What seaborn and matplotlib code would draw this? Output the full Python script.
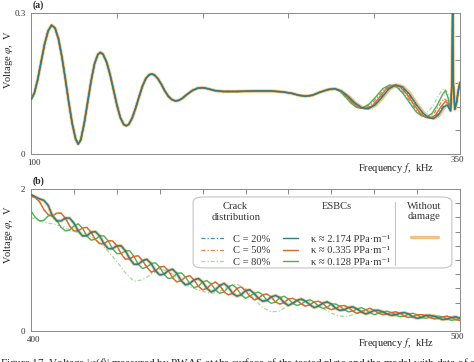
import matplotlib
matplotlib.use("Agg")
import matplotlib.pyplot as plt
import matplotlib.transforms as mtransforms
from matplotlib.patches import FancyBboxPatch
from matplotlib.lines import Line2D
import seaborn as sns

sns.set_theme(style="white")
plt.rcParams["font.family"] = ["Liberation Serif", "DejaVu Serif"]
plt.rcParams["mathtext.fontset"] = "stix"

# ---------------- panel (a): 100-350 kHz ----------------
fa_common = [100, 102, 104, 106, 108, 110, 112, 114, 116, 118, 120, 122, 124, 126, 127.5, 129, 131, 133, 135,
             137, 139, 140.5, 142, 144, 146, 148, 150, 152, 154, 155.5, 157, 159, 161, 163, 165, 167, 169, 170.5,
             172, 174, 176, 178, 180, 182, 184, 186, 188, 191, 194, 197, 200, 203, 207, 212, 220, 230, 240, 247,
             252, 256, 260, 264, 268, 273]
va_common = [.116, .130, .160, .198, .235, .262, .274, .268, .245, .207, .160, .110, .065, .032, .021, .030, .065,
             .110, .155, .192, .212, .216, .212, .196, .170, .138, .105, .078, .063, .060, .063, .077, .098, .122,
             .145, .161, .169, .170, .168, .160, .148, .134, .123, .116, .113, .114, .118, .127, .135, .140, .141,
             .139, .135, .133, .133, .134, .134, .132, .129, .125, .123, .125, .131, .137]

fa_spike = [344.5, 345.3, 345.7, 346.1, 347, 348, 349, 350]
va_spike = [.092, .150, .310, .150, .095, .110, .135, .152]

fa_none = [277, 281, 285, 289, 293, 297, 301, 305, 309, 313, 317, 321, 325, 329, 332, 335, 338, 341, 343]
va_none = [.139, .134, .123, .109, .099, .097, .104, .120, .138, .147, .143, .128, .106, .087, .078, .076, .083, .100, .106]

fa_k1 = [277, 280.8, 284.7, 288.6, 292.5, 296.4, 300.4, 304.4, 308.4, 312.4, 316.4, 320.4, 324.4, 328.4, 331.4,
         334.4, 337.4, 340.4, 342.6]
va_k1 = [.139, .134, .123, .109, .099, .096, .104, .120, .138, .147, .143, .128, .106, .087, .078, .075, .083, .100, .104]

fa_c20 = [277, 280.7, 284.5, 288.3, 292.2, 296.1, 300.1, 304.1, 308.1, 312.1, 316.1, 320.1, 324.1, 328.1, 331.1,
          334.1, 337.1, 340.1, 342.5]
va_c20 = [.139, .134, .124, .110, .100, .098, .105, .121, .138, .146, .142, .127, .106, .088, .079, .077, .085, .101, .104]

fa_k2 = [277, 280.6, 284.2, 287.8, 291.4, 295.0, 299.0, 303.0, 307.0, 311.0, 315.0, 319.0, 323.0, 326.8, 329.8,
         332.8, 335.8, 338.8, 341.5, 343]
va_k2 = [.139, .134, .122, .108, .098, .096, .103, .120, .138, .147, .143, .128, .106, .087, .078, .076, .083, .100,
         .112, .108]

fa_c50 = [277, 280.4, 283.8, 287.2, 290.6, 294, 298, 302, 306, 310, 314, 318, 322, 325.6, 328.6, 331.6, 334.6,
          337.6, 340.6, 343]
va_c50 = [.139, .133, .122, .108, .099, .098, .105, .121, .139, .146, .142, .127, .106, .088, .080, .078, .085, .102,
          .118, .112]

fa_k3 = [277, 280.2, 283.4, 286.6, 289.8, 293, 297, 301, 305, 309, 313, 317, 321, 324.6, 327.6, 330.6, 333.6,
         336.6, 339.6, 341.5, 343]
va_k3 = [.139, .133, .121, .108, .099, .098, .106, .122, .139, .147, .143, .128, .107, .089, .081, .079, .086, .103,
         .125, .135, .120]

fa_c80 = [277, 280, 283, 286, 289, 292, 295, 299, 303, 307, 311, 315, 319, 322.5, 325.5, 328.5, 331.5, 334.5,
          337.5, 340.5, 343]
va_c80 = [.139, .132, .121, .109, .101, .100, .102, .110, .126, .140, .145, .140, .125, .108, .094, .088, .090, .104,
          .125, .140, .130]

# ---------------- panel (b): 400-500 kHz ----------------
fb = list(range(400, 501))
vb_k1 = [1.92, 1.89, 1.86, 1.84, 1.77, 1.62, 1.55, 1.55, 1.59, 1.59, 1.52, 1.41, 1.34, 1.34, 1.39, 1.40, 1.34,
         1.23, 1.16, 1.16, 1.20, 1.20, 1.13, 1.02, .94, .94, .99, 1.01, .95, .85, .79, .80, .85, .87, .81, .71, .65,
         .67, .72, .74, .69, .60, .55, .58, .64, .67, .62, .53, .49, .51, .57, .58, .53, .46, .42, .43, .48, .50,
         .47, .40, .36, .39, .43, .45, .42, .37, .33, .35, .39, .41, .38, .32, .29, .30, .33, .34, .31, .27, .24,
         .26, .29, .29, .27, .24, .22, .23, .25, .26, .24, .20, .18, .19, .22, .22, .21, .18, .16, .17, .19, .20, .18]
vb_k2 = [1.90, 1.88, 1.82, 1.71, 1.64, 1.62, 1.66, 1.66, 1.59, 1.48, 1.41, 1.41, 1.45, 1.46, 1.39, 1.29, 1.23,
         1.23, 1.27, 1.27, 1.20, 1.09, 1.01, 1.02, 1.05, 1.06, .99, .90, .83, .85, .90, .91, .85, .75, .69, .71,
         .76, .78, .72, .63, .58, .60, .66, .69, .64, .55, .51, .53, .60, .62, .57, .49, .44, .46, .51, .52, .48,
         .41, .38, .40, .45, .46, .43, .38, .35, .37, .41, .42, .39, .33, .30, .32, .35, .36, .33, .28, .25, .27,
         .30, .32, .29, .25, .23, .24, .26, .27, .25, .21, .19, .20, .23, .23, .22, .19, .17, .18, .20, .21, .19,
         .16, .15]
vb_k3 = [1.69, 1.60, 1.55, 1.56, 1.62, 1.63, 1.56, 1.46, 1.41, 1.42, 1.48, 1.51, 1.45, 1.34, 1.28, 1.29, 1.34,
         1.34, 1.27, 1.16, 1.09, 1.09, 1.13, 1.13, 1.05, .94, .88, .90, .95, .96, .90, .80, .74, .75, .81, .82, .76,
         .67, .61, .63, .69, .71, .66, .58, .53, .55, .62, .65, .60, .51, .46, .49, .53, .55, .51, .43, .39, .41,
         .47, .49, .45, .39, .36, .38, .42, .44, .41, .35, .32, .33, .38, .38, .35, .30, .27, .28, .31, .33, .30,
         .26, .23, .25, .27, .28, .26, .23, .20, .21, .24, .25, .23, .19, .18, .19, .21, .21, .20, .17, .15, .16, .18]
vb_none = vb_k1
vb_c20 = vb_k1
vb_c50 = vb_k2
fb_c80 = list(range(400, 501, 2))
vb_c80 = [1.60, 1.55, 1.52, 1.50, 1.45, 1.40, 1.38, 1.33, 1.25, 1.12, .98, .82, .70, .72, .80, .87, .85, .75,
          .65, .60, .56, .53, .56, .63, .66, .60, .45, .33, .27, .28, .36, .42, .44, .40, .32, .25, .21, .21, .25,
          .28, .28, .25, .22, .21, .21, .22, .21, .19, .18, .17, .17]

col_none = "#f5c27e"
col_k1, col_c20 = "#2d7c8a", "#3a8fb7"
col_k2, col_c50 = "#d9692c", "#e9813f"
col_k3, col_c80 = "#4fae55", "#a9d79c"
dd = (0, (3.2, 1.6, 1.0, 1.6))

lab_c = ["C = 20%", "C = 50%", "C = 80%"]
lab_k = ["κ ≈ 2.174 PPa·m⁻¹", "κ ≈ 0.335 PPa·m⁻¹", "κ ≈ 0.128 PPa·m⁻¹"]

fig = plt.figure(figsize=(4.74, 3.62), dpi=100)
ax_a = fig.add_axes([0.0654, 0.5746, 0.9051, 0.3895])
ax_b = fig.add_axes([0.0654, 0.0856, 0.9051, 0.3923])


def draw(ax, f, v, color, lw, ls, label, z):
    sns.lineplot(x=f, y=v, ax=ax, color=color, lw=lw, linestyle=ls, estimator=None, sort=False,
                 label=label, zorder=z)


sa = {
    "none": (fa_common + fa_none + fa_spike, va_common + va_none + va_spike),
    "c80": (fa_common + fa_c80 + fa_spike, va_common + va_c80 + va_spike),
    "c50": (fa_common + fa_c50 + fa_spike, va_common + va_c50 + va_spike),
    "c20": (fa_common + fa_c20 + fa_spike, va_common + va_c20 + va_spike),
    "k3": (fa_common + fa_k3 + fa_spike, va_common + va_k3 + va_spike),
    "k2": (fa_common + fa_k2 + fa_spike, va_common + va_k2 + va_spike),
    "k1": (fa_common + fa_k1 + fa_spike, va_common + va_k1 + va_spike),
}
sb = {
    "none": (fb, vb_none), "c80": (fb_c80, vb_c80), "c50": (fb, vb_c50), "c20": (fb, vb_c20),
    "k3": (fb, vb_k3), "k2": (fb, vb_k2), "k1": (fb, vb_k1),
}
style = {
    "none": (col_none, 2.4, "-", "_none", 1),
    "c80": (col_c80, 0.9, dd, lab_c[2], 2),
    "c50": (col_c50, 0.9, dd, lab_c[1], 2),
    "c20": (col_c20, 0.9, dd, lab_c[0], 2),
    "k3": (col_k3, 1.0, "-", lab_k[2], 3),
    "k2": (col_k2, 1.0, "-", lab_k[1], 3),
    "k1": (col_k1, 1.0, "-", lab_k[0], 3),
}
handles = {}
for ax, data in ((ax_a, sa), (ax_b, sb)):
    for key, (f, v) in data.items():
        c, lw, ls, lab, z = style[key]
        draw(ax, f, v, c, lw, ls, lab, z)
        handles[key] = ax.lines[-1]
    if ax.get_legend() is not None:
        ax.get_legend().remove()

tick_kw = dict(direction="in", top=True, right=True, length=3.5, width=0.6, color="#777777",
               labelsize=6.5, labelcolor="#333333", pad=2)
for ax in (ax_a, ax_b):
    for sp in ax.spines.values():
        sp.set_visible(True)
        sp.set_color("#8a8a8a")
        sp.set_linewidth(0.7)
    ax.tick_params(**tick_kw)
    ax.tick_params(axis="y", pad=4)

ax_a.set_xlim(100, 350)
ax_a.set_ylim(0, 0.3)
ax_a.set_xticks([100, 150, 200, 250, 300, 350], ["100", "", "", "", "", "350"])
ax_a.set_yticks([0, 0.05, 0.1, 0.15, 0.2, 0.25, 0.3], ["0", "", "", "", "", "", "0.3"])

ax_b.set_xlim(400, 500)
ax_b.set_ylim(0, 2)
ax_b.set_xticks(list(range(400, 501, 10)), ["400"] + [""] * 9 + ["500"])
ax_b.set_yticks([i / 5 for i in range(11)], ["0"] + [""] * 9 + ["2"])

for ax in (ax_a, ax_b):
    xl = ax.get_xticklabels()
    xl[0].set_transform(xl[0].get_transform() + mtransforms.ScaledTranslation(3 / 100, -2 / 100, fig.dpi_scale_trans))
    xl[-1].set_transform(xl[-1].get_transform() + mtransforms.ScaledTranslation(-3 / 100, 1 / 100, fig.dpi_scale_trans))

for ax, ylc, xlc in ((ax_a, 0.67, -0.099), (ax_b, 0.68, -0.087)):
    ax.set_ylabel(r"Voltage $\varphi$,  V", fontsize=7.5, color="#222222")
    ax.yaxis.set_label_coords(-0.052, ylc)
    ax.yaxis.label.set_verticalalignment("center")
    ax.set_xlabel(r"Frequency $f$,  kHz", fontsize=7.5, color="#222222")
    ax.xaxis.set_label_coords(0.851, xlc)
    ax.xaxis.label.set_verticalalignment("center")

ax_a.text(0.003, 1.02, "(a)", transform=ax_a.transAxes, fontsize=7, fontweight="bold", va="bottom", ha="left")
ax_b.text(0.003, 1.02, "(b)", transform=ax_b.transAxes, fontsize=7, fontweight="bold", va="bottom", ha="left")

# legend box + separator
box = FancyBboxPatch((0.378, 0.444), 0.603, 0.50, boxstyle="round,pad=0,rounding_size=0.025",
                     transform=ax_b.transAxes, fc="white", ec="#c4c4c4", lw=0.8, zorder=6, mutation_aspect=1.4)
ax_b.add_patch(box)
ax_b.add_line(Line2D([0.8485, 0.8485], [0.465, 0.911], transform=ax_b.transAxes, color="#c4c4c4", lw=0.8,
                     zorder=7))

leg_kw = dict(frameon=False, fontsize=7.6, title_fontsize=7.6, labelspacing=0.2, borderpad=0,
              borderaxespad=0, loc="upper center", alignment="center")
top_y = 0.905
leg1 = ax_b.legend(handles=[handles["c20"], handles["c50"], handles["c80"]], labels=lab_c,
                   title="Crack\ndistribution\n", bbox_to_anchor=(0.477, top_y), handlelength=2.3,
                   handletextpad=0.7, **leg_kw)
ax_b.add_artist(leg1)
leg2 = ax_b.legend(handles=[handles["k1"], handles["k2"], handles["k3"]], labels=lab_k,
                   title="ESBCs\n\n", bbox_to_anchor=(0.712, top_y), handlelength=1.45,
                   handletextpad=1.2, **leg_kw)
ax_b.add_artist(leg2)
leg3 = ax_b.legend(handles=[handles["none"]], labels=[""], title="Without\ndamage\n",
                   bbox_to_anchor=(0.917, top_y + 0.005), handlelength=2.5, handletextpad=0.0, **leg_kw)
for lg in (leg1, leg2, leg3):
    lg.set_zorder(8)
    lg.get_title().set_color("#333333")
    lg.get_title().set_multialignment("center")
    for t in lg.get_texts():
        t.set_color("#333333")

fig.text(0.0, -0.004, r"Figure 17. Voltage |$\varphi$($f$)| measured by PWAS at the surface of the tested plate "
         r"and the model with data of crack", fontsize=8, va="center", ha="left", color="#222222")

fig.savefig("out.png", dpi=100)
